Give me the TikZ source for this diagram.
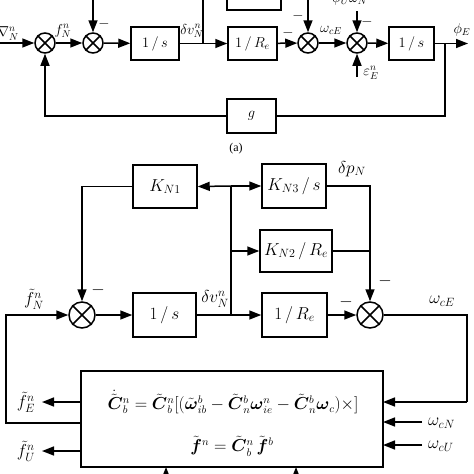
\documentclass[tikz,border=0pt]{standalone}
\usepackage{amsmath}
\usepackage{fontspec}
\setmainfont{Liberation Serif}
\usetikzlibrary{arrows.meta}
\tikzset{
  ln/.style={line width=1.5pt},
  arr/.style={ln,-{Triangle[length=12pt,width=9pt]}},
  blk/.style={draw,ln,rectangle,inner sep=0pt,minimum width=#1},
  blk/.default=48pt,
  sumA/.style={draw,ln,circle,inner sep=0pt,minimum size=20pt},
  sumB/.style={draw,ln,circle,inner sep=0pt,minimum size=26pt},
  lblA/.style={font=\fontsize{14}{16}\selectfont,inner sep=0pt},
  lblB/.style={font=\fontsize{18}{21}\selectfont,inner sep=0pt},
  eqtxt/.style={font=\fontsize{16}{19}\selectfont,inner sep=0pt},
}
\begin{document}
\begin{tikzpicture}[x=1pt,y=-1pt]
\useasboundingbox (0,0) rectangle (474,474);
\clip (0,0) rectangle (474,474);
% ---------- part (a) ----------
\node[sumA] (s1) at (45,43) {};
\node[sumA] (s2) at (93,43) {};
\node[blk=48pt,minimum height=33pt,lblA] (b1) at (155,43.5) {$1\,/\,s$};
\node[blk=49pt,minimum height=33pt,lblA] (b2) at (252.5,43.5) {$1\,/\,R_e$};
\node[sumA] (s3) at (308,43) {};
\node[sumA] (s4) at (357,43) {};
\node[blk=45pt,minimum height=33pt,lblA] (b3) at (411.5,43.5) {$1\,/\,s$};
\node[blk=49pt,minimum height=34pt,lblA] (g) at (251.5,116) {$g$};
\node[blk=52pt,minimum height=34pt,lblA] (k2a) at (254,-7) {$K_{N2}\,/\,R_e$};
\node[lblA,font=\fontsize{12}{14}\selectfont] (cap) at (236,149) {(a)};
\foreach \s in {s1,s2,s3,s4}{
  \draw[ln] (\s.north west) -- (\s.south east) (\s.north east) -- (\s.south west);}
\coordinate (ain) at (-2,43);
\draw[arr] (ain) -- (s1.west);
\node[lblA,anchor=west] (lnab) at (-3,34) {$\nabla_N^n$};
\draw[arr] (s1) -- (s2);
\node[lblA] (lfn) at (63,31) {$f_N^n$};
\coordinate (t2) at (93,-2);
\draw[arr] (t2) -- (s2.north);
\node[lblA] (m1) at (104,24) {$-$};
\draw[arr] (s2) -- (b1);
\draw[arr] (b1) -- (b2);
\coordinate (j1) at (203,43.5);
\coordinate (j1t) at (203,-2);
\draw[ln] (j1) -- (j1t);
\node[lblA] (ldv) at (192,31) {$\delta v_N^n$};
\draw[arr] (b2) -- (s3);
\node[lblA] (m2) at (288,33) {$-$};
\coordinate (t3) at (308,-2);
\draw[arr] (t3) -- (s3.north);
\node[lblA] (m3) at (298,16) {$-$};
\draw[arr] (s3) -- (s4);
\node[lblA] (lwce) at (331,30) {$\omega_{cE}$};
\coordinate (t4) at (357,11);
\draw[arr] (t4) -- (s4.north);
\node[lblA] (m4) at (367,22) {$-$};
\node[lblA] (lpu) at (350,-1) {$\phi_U\omega_N$};
\coordinate (b4b) at (357,77);
\draw[arr] (b4b) -- (s4.south);
\node[lblA] (leps) at (371,73) {$\varepsilon_E^n$};
\draw[arr] (s4) -- (b3);
\coordinate (aout) at (468,43.5);
\draw[arr] (b3) -- (aout);
\node[lblA] (lphi) at (462,30) {$\phi_E$};
\coordinate (fa1) at (445,43.5);
\coordinate (fa2) at (445,116);
\coordinate (fa3) at (45,116);
\draw[ln] (fa1) -- (fa2) -- (g.east);
\draw[arr] (g.west) -- (fa3) -- (s1.south);
% ---------- part (b) ----------
\node[blk=64pt,minimum height=43pt,lblB] (kn1) at (165,186.5) {$K_{N1}$};
\node[blk=64pt,minimum height=44pt,lblB] (kn3) at (294,186) {$K_{N3}\,/\,s$};
\node[blk=72pt,minimum height=42pt,lblB] (kn2) at (296,251) {$K_{N2}\,/\,R_e$};
\node[blk=63pt,minimum height=44pt,lblB] (b4) at (164.5,315) {$1\,/\,s$};
\node[blk=65pt,minimum height=44pt,lblB] (b5) at (294.5,315) {$1\,/\,R_e$};
\node[sumB] (s5) at (82,315) {};
\node[sumB] (s6) at (370,315) {};
\foreach \s in {s5,s6}{
  \draw[ln] (\s.north west) -- (\s.south east) (\s.north east) -- (\s.south west);}
\node[draw,ln,rectangle,inner sep=0pt,minimum width=302pt,minimum height=96pt] (big) at (232,419) {};
\node[eqtxt] (eq1) at (233,402) {$\dot{\tilde{\boldsymbol{C}}}{}_b^n=\tilde{\boldsymbol{C}}{}_b^n[(\tilde{\boldsymbol{\omega}}{}_{ib}^b-\tilde{\boldsymbol{C}}{}_n^b\boldsymbol{\omega}_{ie}^n-\tilde{\boldsymbol{C}}{}_n^b\boldsymbol{\omega}_c)\times]$};
\node[eqtxt] (eq2) at (232,446) {$\tilde{\boldsymbol{f}}{}^n=\tilde{\boldsymbol{C}}{}_b^n\,\tilde{\boldsymbol{f}}{}^b$};
% connectors
\coordinate (jb) at (231,315);
\coordinate (jt) at (231,186);
\coordinate (jm) at (231,251);
\draw[ln] (b4.east) -- (jb);
\draw[arr] (jb) -- (b5.west);
\draw[ln] (jb) -- (jt);
\draw[arr] (jt) -- (kn1.east);
\draw[arr] (jt) -- (kn3.west);
\draw[arr] (jm) -- (kn2.west);
\coordinate (k1l) at (82,186.5);
\draw[arr] (kn1.west) -- (k1l) -- (s5.north);
\node[lblB] (m5) at (98,290) {$-$};
\draw[arr] (s5) -- (b4);
\node[lblB] (ldvb) at (215,299) {$\delta v_N^n$};
\coordinate (k3r) at (370,186);
\coordinate (k2r) at (370,251);
\draw[arr] (kn3.east) -- (k3r) -- (s6.north);
\draw[ln] (kn2.east) -- (k2r);
\node[lblB] (ldp) at (352,169) {$\delta p_N$};
\node[lblB] (m6) at (385,281) {$-$};
\draw[arr] (b5) -- (s6);
\node[lblB] (m7) at (346,302) {$-$};
\coordinate (w1) at (467,315);
\coordinate (w2) at (467,402);
\coordinate (w3) at (383,402);
\draw[ln] (s6.east) -- (w1) -- (w2);
\draw[arr] (w2) -- (w3);
\node[lblB] (lwceb) at (442,301) {$\omega_{cE}$};
\coordinate (f1) at (81,423);
\coordinate (f2) at (6,423);
\coordinate (f3) at (6,315);
\draw[arr] (f1) -- (f2) -- (f3) -- (s5.west);
\node[lblB] (lfnb) at (34,299) {$\tilde{f}_N^n$};
\coordinate (fe1) at (81,402);
\coordinate (fe2) at (42,402);
\draw[arr] (fe1) -- (fe2);
\node[lblB] (lfe) at (26,402) {$\tilde{f}_E^n$};
\coordinate (fu1) at (81,451);
\coordinate (fu2) at (42,451);
\draw[arr] (fu1) -- (fu2);
\node[lblB] (lfu) at (26,451) {$\tilde{f}_U^n$};
\coordinate (wn1) at (422,422);
\coordinate (wn2) at (383,422);
\draw[arr] (wn1) -- (wn2);
\node[lblB,anchor=west] (lwcn) at (428,423) {$\omega_{cN}$};
\coordinate (wu1) at (422,445);
\coordinate (wu2) at (383,445);
\draw[arr] (wu1) -- (wu2);
\node[lblB,anchor=west] (lwcu) at (428,446) {$\omega_{cU}$};
\coordinate (u1) at (166,478);
\coordinate (u2) at (166,467);
\draw[arr] (u1) -- (u2);
\coordinate (u3) at (296,478);
\coordinate (u4) at (296,467);
\draw[arr] (u3) -- (u4);
\end{tikzpicture}
\end{document}
